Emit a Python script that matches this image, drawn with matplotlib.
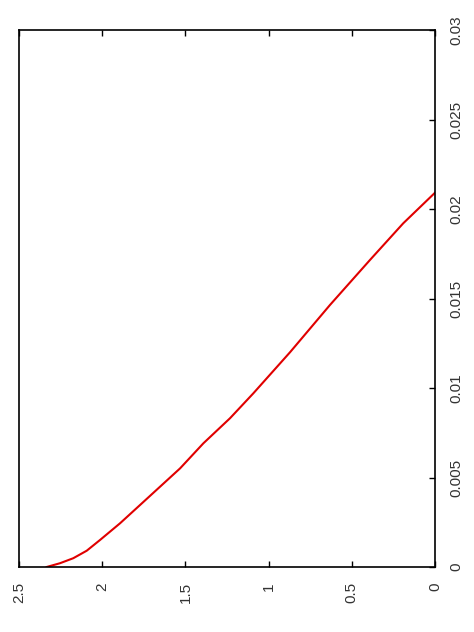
import matplotlib
matplotlib.use("Agg")
import matplotlib.pyplot as plt

# curve (drawn rotated: value on the bottom axis, position on the right axis)
pos = [0.0, 0.00021, 0.00049, 0.00091, 0.00151, 0.00244, 0.00346,
       0.00551, 0.00691, 0.00831, 0.00970, 0.01200, 0.01464, 0.01715,
       0.01920, 0.02091]
val = [2.334, 2.254, 2.174, 2.093, 2.013, 1.893, 1.773,
       1.532, 1.392, 1.232, 1.092, 0.871, 0.631, 0.391,
       0.191, 0.0]

bottom_ticks = [2.5, 2.0, 1.5, 1.0, 0.5, 0.0]
bottom_labels = ["2.5", "2", "1.5", "1", "0.5", "0"]
right_ticks = [0, 0.005, 0.01, 0.015, 0.02, 0.025, 0.03]
right_labels = ["0", "0.005", "0.01", "0.015", "0.02", "0.025", "0.03"]

plt.rcParams['font.family'] = ['Liberation Sans', 'DejaVu Sans']

fig = plt.figure(figsize=(4.74, 6.32), dpi=100)
ax = fig.add_axes([19/474, 65/632, 416/474, 537/632])

ax.plot(val, pos, color='#e00000', lw=1.5)

ax.set_xlim(2.5, 0)
ax.set_ylim(0, 0.03)

ax.set_xticks(bottom_ticks)
ax.set_xticklabels(bottom_labels, rotation=90)
ax.set_yticks(right_ticks)
ax.set_yticklabels(right_labels, rotation=90, va='center')

ax.yaxis.tick_right()
ax.tick_params(axis='x', direction='in', top=True, bottom=True, length=4,
               width=1, pad=11, labelsize=11, labelcolor='#333333')
ax.tick_params(axis='y', direction='in', left=False, right=True, length=4,
               width=1, pad=10, labelsize=11, labelcolor='#333333')

for s in ax.spines.values():
    s.set_linewidth(1.2)

fig.savefig("out.png", dpi=100)
